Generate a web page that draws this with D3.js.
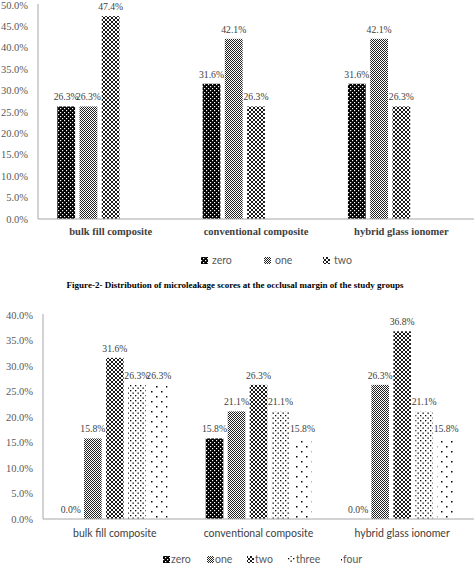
<!DOCTYPE html>
<html>
<head>
<meta charset="utf-8">
<script src="https://cdn.jsdelivr.net/npm/d3@7"></script>
<style>
  body { margin: 0; background: #fff; }
  svg { display: block; }
</style>
</head>
<body>
<div id="viz-container"></div>
<script>
// groups and scores
var groups = ["bulk fill composite", "conventional composite", "hybrid glass ionomer"];
var scores = ["zero", "one", "two", "three", "four"];

// figure 2 - occlusal margin (only three scores)
var occZero = [26.3, 31.6, 31.6];
var occOne = [26.3, 42.1, 42.1];
var occTwo = [47.4, 26.3, 26.3];
var occTicks = [0, 5, 10, 15, 20, 25, 30, 35, 40, 45, 50];

// second figure - five scores
var secZero = [0.0, 15.8, 0.0];
var secOne = [15.8, 21.1, 26.3];
var secTwo = [31.6, 26.3, 36.8];
var secThree = [26.3, 21.1, 21.1];
var secFour = [26.3, 15.8, 15.8];
var secTicks = [0, 5, 10, 15, 20, 25, 30, 35, 40];

var titleText = "Figure-2- Distribution of microleakage scores at the occlusal margin of the study groups";

var serif = "'Liberation Serif', 'Times New Roman', serif";
var sans = "Lato, 'Liberation Sans', sans-serif";
var grey = "#595959";

var svg = d3.select("#viz-container").append("svg")
    .attr("width", 474)
    .attr("height", 564);

var defs = svg.append("defs");

function makePattern(id, w, h, bg, draw) {
    var p = defs.append("pattern")
        .attr("id", id)
        .attr("patternUnits", "userSpaceOnUse")
        .attr("width", w)
        .attr("height", h);
    p.append("rect").attr("width", w).attr("height", h).attr("fill", bg);
    draw(p);
}

// zero: black with white dots
makePattern("pat-zero", 4, 4, "#000", function(p) {
    p.append("rect").attr("x", 0).attr("y", 0).attr("width", 1.2).attr("height", 1.2).attr("fill", "#fff");
    p.append("rect").attr("x", 2).attr("y", 2).attr("width", 1.2).attr("height", 1.2).attr("fill", "#fff");
});
// one: fine checker (grey look)
makePattern("pat-one", 2, 2, "#fff", function(p) {
    p.append("rect").attr("x", 0).attr("y", 0).attr("width", 1).attr("height", 1).attr("fill", "#222");
    p.append("rect").attr("x", 1).attr("y", 1).attr("width", 1).attr("height", 1).attr("fill", "#222");
});
// two: diamond lattice
makePattern("pat-two", 4, 4, "#fff", function(p) {
    p.append("path").attr("d", "M0,2 L2,0 L4,2 L2,4 Z")
        .attr("fill", "none").attr("stroke", "#000").attr("stroke-width", 0.9);
});
// three: small dots
makePattern("pat-three", 5, 5, "#fff", function(p) {
    p.append("rect").attr("x", 0).attr("y", 0).attr("width", 1.3).attr("height", 1.3).attr("fill", "#000");
    p.append("rect").attr("x", 2.5).attr("y", 2.5).attr("width", 1.3).attr("height", 1.3).attr("fill", "#000");
});
// four: sparse dots
makePattern("pat-four", 10, 10, "#fff", function(p) {
    p.append("rect").attr("x", 1).attr("y", 1).attr("width", 1.5).attr("height", 1.5).attr("fill", "#000");
    p.append("rect").attr("x", 6).attr("y", 6).attr("width", 1.5).attr("height", 1.5).attr("fill", "#000");
});

svg.append("rect").attr("width", 474).attr("height", 564).attr("fill", "#fff");

function fmt(v) { return v.toFixed(1) + "%"; }

function barChart(opt) {
    var g = svg.append("g");

    var x0 = d3.scaleBand()
        .domain(groups)
        .range([opt.left, opt.right])
        .paddingInner(0.25)
        .paddingOuter(0.125);

    var x1 = d3.scaleBand()
        .domain(scores)
        .range([0, x0.bandwidth()])
        .paddingInner(0.2)
        .paddingOuter(0.05);

    var y = d3.scaleLinear()
        .domain([0, opt.max])
        .range([opt.bottom, opt.top]);

    // tick labels
    g.selectAll(".tick-label")
        .data(opt.ticks)
        .enter().append("text")
        .attr("x", opt.left - 10)
        .attr("y", function(d) { return y(d); })
        .attr("dy", "0.35em")
        .attr("text-anchor", "end")
        .style("font-family", serif)
        .style("font-size", "10.5px")
        .style("fill", grey)
        .text(function(d) { return d.toFixed(1) + "%"; });

    var rows = [];
    opt.series.forEach(function(vals, si) {
        vals.forEach(function(v, gi) {
            rows.push({ group: groups[gi], score: scores[si], value: v });
        });
    });

    g.selectAll(".bar")
        .data(rows)
        .enter().append("rect")
        .attr("class", "bar")
        .attr("x", function(d) { return x0(d.group) + x1(d.score); })
        .attr("y", function(d) { return y(d.value); })
        .attr("width", x1.bandwidth())
        .attr("height", function(d) { return opt.bottom - y(d.value); })
        .attr("fill", function(d) { return "url(#pat-" + d.score + ")"; });

    g.selectAll(".val")
        .data(rows)
        .enter().append("text")
        .attr("x", function(d) { return x0(d.group) + x1(d.score) + x1.bandwidth() / 2; })
        .attr("y", function(d) { return y(d.value) - 6; })
        .attr("text-anchor", "middle")
        .style("font-family", serif)
        .style("font-size", "9.7px")
        .style("fill", "#404040")
        .text(function(d) { return fmt(d.value); });

    // axis lines
    g.append("line")
        .attr("x1", opt.left).attr("x2", opt.left)
        .attr("y1", opt.top - 1).attr("y2", opt.bottom)
        .attr("stroke", "#a6a6a6").attr("stroke-width", 1);
    g.append("line")
        .attr("x1", opt.left).attr("x2", opt.right)
        .attr("y1", opt.bottom).attr("y2", opt.bottom)
        .attr("stroke", "#a6a6a6").attr("stroke-width", 1);

    // category labels
    g.selectAll(".cat")
        .data(groups)
        .enter().append("text")
        .attr("x", function(d) { return x0(d) + x0.bandwidth() / 2; })
        .attr("y", opt.catY)
        .attr("text-anchor", "middle")
        .style("font-family", opt.catFont)
        .style("font-weight", opt.catWeight)
        .style("font-size", opt.catSize)
        .style("fill", opt.catColor)
        .text(function(d) { return d; });

    // legend
    var leg = g.selectAll(".leg")
        .data(opt.legend)
        .enter().append("g")
        .attr("transform", function(d) { return "translate(" + d.x + "," + opt.legY + ")"; });
    leg.append("rect")
        .attr("x", 0).attr("y", -7)
        .attr("width", 7).attr("height", 7)
        .attr("fill", function(d) { return "url(#pat-" + d.score + ")"; });
    leg.append("text")
        .attr("x", opt.legGap)
        .attr("y", 0)
        .style("font-family", sans)
        .style("font-size", "10.5px")
        .style("fill", grey)
        .text(function(d) { return d.score; });
}

barChart({
    left: 38, right: 474, top: 5, bottom: 219, max: 50,
    ticks: occTicks,
    series: [occZero, occOne, occTwo],
    catY: 235, catFont: serif, catWeight: "bold", catSize: "10.5px", catColor: "#404040",
    legY: 264, legGap: 11,
    legend: [{ score: "zero", x: 201 }, { score: "one", x: 264 }, { score: "two", x: 323 }]
});

svg.append("text")
    .attr("x", 235)
    .attr("y", 288)
    .attr("text-anchor", "middle")
    .style("font-family", serif)
    .style("font-weight", "bold")
    .style("font-size", "9px")
    .style("fill", "#000")
    .text(titleText);

barChart({
    left: 43, right: 474, top: 315, bottom: 519, max: 40,
    ticks: secTicks,
    series: [secZero, secOne, secTwo, secThree, secFour],
    catY: 537, catFont: sans, catWeight: "normal", catSize: "10.5px", catColor: "#404040",
    legY: 563, legGap: 8,
    legend: [{ score: "zero", x: 163 }, { score: "one", x: 207 }, { score: "two", x: 247 },
             { score: "three", x: 288 }, { score: "four", x: 335 }]
});
</script>
</body>
</html>
